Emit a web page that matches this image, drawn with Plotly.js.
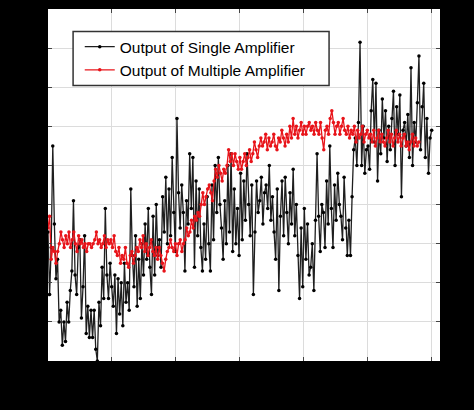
<!DOCTYPE html>
<html>
<head>
<meta charset="utf-8">
<script src="https://cdn.plot.ly/plotly-3.0.1.min.js"></script>
<style>html,body{margin:0;padding:0;background:#000;}#chart{width:474px;height:410px;}</style>
</head>
<body>
<div id="chart"></div>
<script>
// Series names
const seriesNames = ["Output of Single Amplifier", "Output of Multiple Amplifier"];

// Horizontal extent of each series (axis units)
const singleXStart = 0, singleXEnd = 6.0;
const multipleXStart = 0, multipleXEnd = 5.8;

// Output of Single Amplifier
const singleValues = [
  3.3, 1.7, 2.9, 5.5, 3.5,
  2.1, 2.6, 1.0, 1.3,
  0.4, 1.0, 0.5, 1.5,
  1.0, 1.8, 2.3, 4.1,
  2.2, 1.7, 2.9, 3.1,
  1.1, 1.9, 3.2, 0.7,
  1.4, 0.6, 1.3, 0.6,
  1.3, 0.3, 0.0, 1.5,
  0.9, 2.4, 1.6, 3.9,
  2.2, 1.6, 2.5, 1.9,
  1.4, 2.2, 0.7, 2.1,
  1.2, 2.0, 0.9, 2.5,
  1.5, 2.0, 1.3, 4.4,
  2.7, 1.9, 3.2, 1.4,
  2.6, 1.6, 3.0, 2.2,
  3.5, 2.6, 3.9, 2.4,
  1.7, 3.7, 2.2, 4.0,
  2.7, 3.1, 2.4, 4.2,
  3.3, 4.7, 3.0, 4.4,
  3.2, 5.2, 3.8, 2.8,
  6.2, 4.3, 3.4, 4.5,
  3.8, 2.3, 4.1, 3.5,
  5.3, 3.9, 5.2, 2.4,
  4.6, 3.2, 4.4, 2.9,
  2.3, 3.5, 2.6, 4.2,
  3.0, 2.3, 4.5, 3.1,
  5.0, 3.8, 5.2, 4.0,
  3.4, 2.6, 4.1, 3.0,
  5.0, 3.3, 5.3, 2.8,
  4.4, 3.0, 3.9, 2.7,
  4.8, 3.1, 4.6, 3.6,
  5.3, 4.0, 3.2, 4.5,
  1.7, 3.3, 4.6, 3.8,
  4.1, 4.7, 3.5, 4.3,
  4.5, 3.9, 5.0, 3.6,
  4.2, 3.3, 2.6, 4.4,
  1.8, 3.7, 4.6, 3.2,
  4.7, 3.8, 3.0, 4.3,
  3.5, 4.9, 3.2, 4.0,
  2.7, 1.6, 3.4, 1.9,
  3.9, 2.6, 3.5, 2.2,
  2.4, 3.0, 1.8, 3.6,
  5.3, 3.7, 2.8, 4.0,
  3.8, 2.9, 4.6, 3.5,
  5.5, 3.9, 2.9, 4.5,
  3.6, 4.8, 4.0, 3.7,
  3.1, 4.7, 3.4, 2.7,
  3.6, 2.7, 4.2, 5.4,
  5.7, 5.0, 6.1, 8.15,
  5.0, 6.0, 4.8, 5.4,
  5.5, 4.9, 6.4, 7.2,
  5.6, 7.1, 4.6, 5.9,
  5.3, 6.7, 5.7, 6.4,
  5.1, 6.0, 5.4, 6.2,
  6.9, 5.0, 6.5, 5.8,
  6.8, 4.2, 5.9, 6.1,
  5.5, 6.3, 5.2, 7.5,
  5.0, 6.1, 5.6, 6.6,
  7.8, 5.4, 6.5, 7.1,
  5.2, 6.2, 4.8, 5.7, 5.9
];

// Output of Multiple Amplifier
const multipleValues = [
  3.4, 3.7, 2.6, 2.9,
  2.8, 2.5, 2.8, 3.0,
  3.3, 3.1, 2.9, 3.2,
  3.0, 3.3, 2.9, 3.1,
  3.3, 3.0, 2.8, 3.2,
  3.0, 3.1, 2.9, 3.0,
  2.8, 3.0, 3.0, 2.9,
  3.0, 3.1, 3.3, 3.0,
  3.1, 2.9, 3.0, 3.2,
  2.9, 3.1, 3.0, 3.1,
  2.9, 3.2, 2.8, 2.7,
  2.9, 2.5, 2.7, 2.6,
  2.9, 2.5, 2.4, 2.7,
  2.8, 2.5, 2.7, 2.9,
  2.8, 3.1, 2.9, 3.2,
  2.8, 3.0, 2.7, 2.9,
  3.1, 2.8, 2.7, 2.9,
  2.6, 2.9, 2.7, 2.5,
  2.3, 2.6, 2.8, 2.9,
  3.1, 2.9, 2.8, 3.0,
  2.7, 3.0, 3.1, 2.8,
  3.0, 3.1, 3.4, 3.2,
  3.3, 3.6, 3.4, 3.7,
  3.6, 3.8, 3.7, 4.0,
  4.3, 4.0, 4.2, 4.4,
  4.5, 4.3, 4.1, 4.6,
  4.9, 4.7, 5.0, 4.8,
  4.6, 4.9, 4.8, 5.0,
  5.4, 5.1, 5.3, 5.0,
  5.3, 5.1, 4.9, 5.2,
  4.9, 5.1, 5.3, 5.0,
  5.2, 5.4, 5.1, 5.3,
  5.6, 5.4, 5.2, 5.5,
  5.7, 5.5, 5.6, 5.8,
  5.4, 5.7, 5.5, 5.6,
  5.8, 5.5, 5.4, 5.7,
  5.6, 5.9, 5.7, 5.5,
  5.8, 5.6, 6.0, 5.7,
  6.2, 5.8, 6.0, 5.7,
  5.9, 6.1, 5.8, 6.0,
  5.8, 6.0, 6.1, 5.9,
  6.0, 5.8, 6.1, 5.9,
  5.8, 6.1, 5.7, 5.4,
  5.9, 6.0, 5.8, 6.2,
  6.4, 6.1, 5.8, 6.0,
  6.1, 5.8, 6.0, 6.2,
  5.9, 5.8, 6.0, 5.7,
  5.9, 5.8, 6.0, 5.6,
  5.9, 5.7, 5.8, 6.0,
  5.6, 5.8, 5.9, 5.7,
  5.8, 5.6, 5.9, 5.5,
  5.7, 5.9, 5.6, 5.8,
  5.6, 5.5, 5.7, 5.9,
  5.6, 5.8, 5.5, 5.7,
  5.9, 5.6, 5.8, 5.5,
  5.7, 5.8, 5.5, 5.6,
  5.4, 5.6, 5.8, 5.5,
  5.7, 5.5, 5.6
];

// Axis ticks
const xTickVals = [0, 1, 2, 3, 4, 5, 6];
const yTickVals = [0, 1, 2, 3, 4, 5, 6, 7, 8, 9];

function positions(values, start, end) {
  const n = values.length;
  return values.map((_, i) => start + (end - start) * i / (n - 1));
}

const traces = [
  {
    x: positions(singleValues, singleXStart, singleXEnd),
    y: singleValues,
    name: seriesNames[0],
    type: "scatter",
    mode: "lines+markers",
    line: {color: "#1f1f1f", width: 1.3},
    marker: {color: "#000000", size: 3.5}
  },
  {
    x: positions(multipleValues, multipleXStart, multipleXEnd),
    y: multipleValues,
    name: seriesNames[1],
    type: "scatter",
    mode: "lines+markers",
    line: {color: "#e8141a", width: 1.3},
    marker: {color: "#e8141a", size: 3.5}
  }
];

const axisCommon = {
  showgrid: true,
  gridcolor: "#dcdcdc",
  gridwidth: 1,
  zeroline: false,
  showline: true,
  linecolor: "#000",
  linewidth: 1,
  mirror: "ticks",
  ticks: "inside",
  ticklen: 4,
  tickcolor: "#444",
  tickfont: {family: "Arial, Liberation Sans, sans-serif", size: 12, color: "#000"}
};

const layout = {
  width: 474,
  height: 410,
  paper_bgcolor: "#000000",
  plot_bgcolor: "#ffffff",
  margin: {l: 48, r: 34, t: 9, b: 49},
  showlegend: true,
  legend: {
    x: 0.081, y: 0.94, xanchor: "left", yanchor: "top",
    bgcolor: "rgba(0,0,0,0)",
    borderwidth: 0,
    font: {family: "Arial, Liberation Sans, sans-serif", size: 15.5, color: "#000"},
    tracegroupgap: 0
  },
  shapes: [{
    type: "rect", xref: "paper", yref: "paper", layer: "above",
    x0: 0.064, x1: 0.717, y0: 0.783, y1: 0.936,
    fillcolor: "#ffffff",
    line: {color: "#333333", width: 1.5}
  }],
  xaxis: Object.assign({}, axisCommon, {range: [0, 6.13], tickvals: xTickVals}),
  yaxis: Object.assign({}, axisCommon, {range: [0, 9], tickvals: yTickVals})
};

Plotly.newPlot("chart", traces, layout, {displayModeBar: false, staticPlot: true});
</script>
</body>
</html>
